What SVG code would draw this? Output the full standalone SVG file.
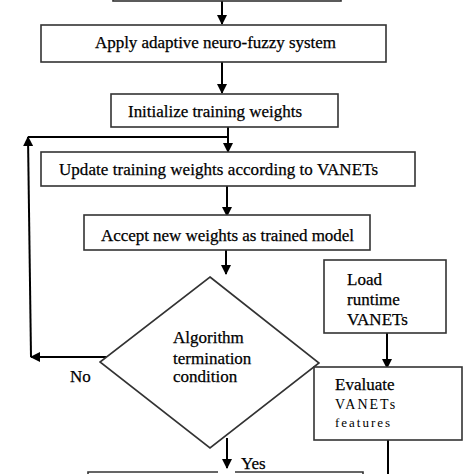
<svg xmlns="http://www.w3.org/2000/svg" width="474" height="474" viewBox="0 0 474 474">
<defs>
<marker id="ah" markerWidth="10" markerHeight="10" refX="9" refY="5" orient="auto" markerUnits="userSpaceOnUse">
<path d="M0,0 L10,5 L0,10 Z" fill="#000"/>
</marker>
<style>
.box{fill:#fff;stroke:#333;stroke-width:1.6}
.ln{fill:none;stroke:#000;stroke-width:2}
.t{font-family:"Liberation Serif","Times New Roman",serif;font-size:17px;fill:#000;stroke:#000;stroke-width:0.25}
.ts{font-family:"Liberation Serif","Times New Roman",serif;fill:#000}
</style>
</defs>
<rect width="474" height="474" fill="#fff"/>
<g id="connectors">
<line class="ln" x1="222" y1="1" x2="222" y2="24" marker-end="url(#ah)"/>
<line class="ln" x1="222" y1="62" x2="222" y2="93" marker-end="url(#ah)"/>
<line class="ln" x1="228" y1="127" x2="228" y2="152" marker-end="url(#ah)"/>
<line class="ln" x1="227" y1="186" x2="227" y2="216" marker-end="url(#ah)"/>
<line class="ln" x1="226" y1="250" x2="226" y2="274" marker-end="url(#ah)"/>
<line class="ln" x1="130" y1="357" x2="31" y2="357" marker-end="url(#ah)"/>
<line class="ln" x1="31" y1="357" x2="28" y2="137" marker-end="url(#ah)"/>
<line class="ln" x1="28" y1="137" x2="228" y2="137"/>
<line class="ln" x1="227" y1="438" x2="227" y2="468" marker-end="url(#ah)"/>
<line class="ln" x1="387" y1="320" x2="387" y2="368" marker-end="url(#ah)"/>
<line class="ln" x1="388" y1="428" x2="388" y2="474" stroke-width="1.4"/>
</g>
<g id="n0"><rect class="box" x="113" y="-10" width="228" height="11"/></g>
<g id="n1"><rect class="box" x="41" y="25" width="345" height="37"/><text class="t" x="95" y="48" textLength="241">Apply adaptive neuro-fuzzy system</text></g>
<g id="n2"><rect class="box" x="111" y="94" width="227" height="33"/><text class="t" x="128" y="117" textLength="174">Initialize training weights</text></g>
<g id="n3"><rect class="box" x="41" y="152" width="374" height="34"/><text class="t" x="59" y="175" textLength="319">Update training weights according to VANETs</text></g>
<g id="n4"><rect class="box" x="84" y="215" width="286" height="35"/><text class="t" x="101" y="241" textLength="253">Accept new weights as trained model</text></g>
<g id="n5"><path class="box" d="M210,277 L319,363 L210,448 L100,362 Z"/>
<text class="t" x="173" y="343">Algorithm</text><text class="t" x="173" y="364">termination</text><text class="t" x="173" y="382">condition</text></g>
<text class="t" x="70" y="382">No</text>
<g id="n6"><rect class="box" x="324" y="260" width="122" height="73"/>
<text class="t" x="347" y="285">Load</text><text class="t" x="347" y="305">runtime</text><text class="t" x="347" y="325">VANETs</text></g>
<g id="n7"><rect class="box" x="314" y="367" width="148" height="73"/>
<text class="t" x="335" y="390">Evaluate</text>
<text class="ts" x="335" y="409" font-size="14" letter-spacing="2">VANETs</text>
<text class="ts" x="335" y="427" font-size="13" letter-spacing="2">features</text></g>
<text class="t" x="241" y="469" font-size="15">Yes</text>
<g id="n8"><path fill="#fff" stroke="#333" stroke-width="1.6" d="M88,480 L88,472 L218,472 M235,472 L363,472 L363,480"/></g>
</svg>
